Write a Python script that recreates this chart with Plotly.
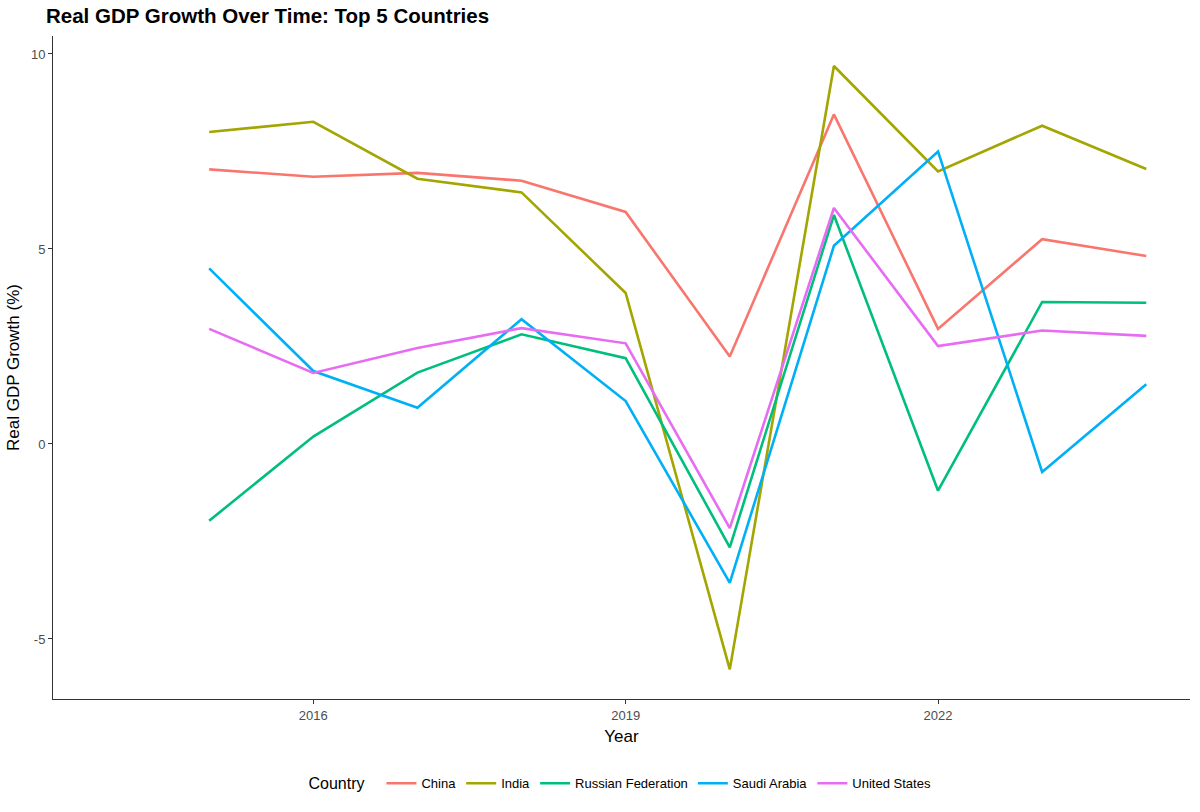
import plotly.graph_objects as go

years = [2015, 2016, 2017, 2018, 2019, 2020, 2021, 2022, 2023, 2024]
china = [7.04, 6.85, 6.95, 6.75, 5.95, 2.24, 8.45, 2.95, 5.25, 4.82]
india = [8.0, 8.26, 6.8, 6.45, 3.87, -5.78, 9.69, 6.99, 8.16, 7.05]
russia = [-1.97, 0.19, 1.83, 2.81, 2.2, -2.65, 5.87, -1.2, 3.64, 3.62]
saudi = [4.5, 1.87, 0.93, 3.2, 1.1, -3.56, 5.08, 7.5, -0.72, 1.53]
usa = [2.95, 1.82, 2.46, 2.97, 2.58, -2.16, 6.05, 2.51, 2.91, 2.77]

countries = ["China", "India", "Russian Federation", "Saudi Arabia", "United States"]
series = [china, india, russia, saudi, usa]
colors = ["#F8766D", "#A3A500", "#00BF7D", "#00B0F6", "#E76BF3"]

x_ticks = [2016, 2019, 2022]
y_ticks = [-5, 0, 5, 10]

fig = go.Figure()
for name, vals, col in zip(countries, series, colors):
    fig.add_trace(go.Scatter(x=years, y=vals, mode="lines", name=name,
                             line=dict(color=col, width=2.6)))

font_family = "Liberation Sans, Arial, sans-serif"
fig.update_layout(
    width=1200, height=812,
    paper_bgcolor="white", plot_bgcolor="white",
    margin=dict(l=53, r=10, t=36, b=113),
    font=dict(family=font_family, color="#000000"),
    title=dict(text="<b>Real GDP Growth Over Time: Top 5 Countries</b>",
               x=46/1200, xanchor="left", y=1 - 16/812, yanchor="middle",
               font=dict(size=20.5, color="#000000")),
    xaxis=dict(range=[2013.5, 2024.42], tickvals=x_ticks, ticktext=[str(t) for t in x_ticks],
               showgrid=False, zeroline=False, showline=True, linecolor="#333333", linewidth=1,
               ticks="outside", ticklen=4, tickcolor="#333333",
               tickfont=dict(size=13, color="#4d4d4d"),
               title=dict(text="Year", font=dict(size=17, color="#000000"), standoff=8)),
    yaxis=dict(range=[-6.54, 10.46], tickvals=y_ticks, ticktext=[str(t) for t in y_ticks],
               showgrid=False, zeroline=False, showline=True, linecolor="#333333", linewidth=1,
               ticks="outside", ticklen=4, tickcolor="#333333",
               tickfont=dict(size=13, color="#4d4d4d"),
               title=dict(text="Real GDP Growth (%)", font=dict(size=17, color="#000000"), standoff=6)),
    legend=dict(orientation="h", x=0.5, xanchor="center", y=-0.128, yanchor="middle",
                title=dict(text="Country  ", font=dict(size=16, color="#000000")),
                font=dict(size=13, color="#000000"), itemwidth=30),
)

fig.write_html("out.html")
